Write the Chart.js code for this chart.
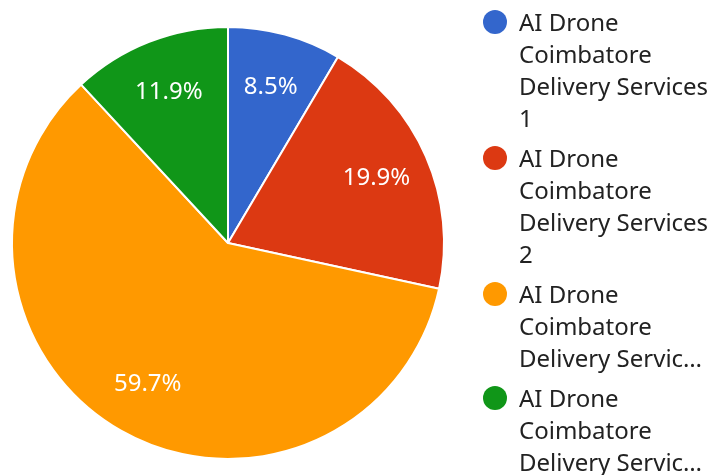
<!DOCTYPE html>
<html>
<head>
<meta charset="utf-8">
<script src="https://cdn.jsdelivr.net/npm/chart.js@4.4.1/dist/chart.umd.min.js"></script>
<style>
  html, body { margin: 0; padding: 0; background: #fff; }
  #wrap { position: relative; width: 713px; height: 475px; overflow: hidden; }
  #legend { position: absolute; left: 483px; top: 6px; font-family: "Noto Sans", sans-serif; font-size: 24px; line-height: 32px; color: #222; }
  .item { position: relative; padding-left: 36px; margin-bottom: 8px; width: 194px; }
  .dot { position: absolute; left: 0; top: 4px; width: 24px; height: 24px; border-radius: 50%; }
  .txt { display: -webkit-box; -webkit-box-orient: vertical; overflow: hidden; }
</style>
</head>
<body>
<div id="wrap">
  <canvas id="chart" width="713" height="475"></canvas>
  <div id="legend"></div>
</div>
<script>
// Pie share of deliveries, Google-style palette
const labels = [
  'AI Drone Coimbatore Delivery Services 1',
  'AI Drone Coimbatore Delivery Services 2',
  'AI Drone Coimbatore Delivery Services 3',
  'AI Drone Coimbatore Delivery Services 4'
];
const values = [8.5, 19.9, 59.7, 11.9];
const colors = ['#3366cc', '#dc3912', '#ff9900', '#109618'];
const legendMaxLines = [4, 4, 3, 3];

// white percentage text in each slice
const sliceLabels = {
  id: 'sliceLabels',
  afterDatasetsDraw(chart) {
    const ctx = chart.ctx;
    const meta = chart.getDatasetMeta(0);
    const total = values.reduce((a, b) => a + b, 0);
    ctx.save();
    ctx.fillStyle = '#fff';
    ctx.font = '24px "Noto Sans"';
    ctx.textAlign = 'center';
    ctx.textBaseline = 'middle';
    meta.data.forEach((arc, i) => {
      const mid = (arc.startAngle + arc.endAngle) / 2;
      const r = arc.outerRadius * 0.75;
      const x = arc.x + Math.cos(mid) * r;
      const y = arc.y + Math.sin(mid) * r;
      ctx.fillText((values[i] / total * 100).toFixed(1) + '%', x, y);
    });
    ctx.restore();
  }
};

const chart = new Chart(document.getElementById('chart'), {
  type: 'pie',
  data: {
    labels: labels,
    datasets: [{ data: values, backgroundColor: colors, borderColor: '#fff', borderWidth: 2 }]
  },
  options: {
    responsive: false,
    animation: false,
    layout: { padding: { left: 11, top: 26, right: 268, bottom: 15 } },
    plugins: { legend: { display: false }, tooltip: { enabled: false } }
  },
  plugins: [sliceLabels]
});

const legend = document.getElementById('legend');
labels.forEach((l, i) => {
  const item = document.createElement('div');
  item.className = 'item';
  item.innerHTML = '<span class="dot" style="background:' + colors[i] + '"></span><div class="txt" style="-webkit-line-clamp:' + legendMaxLines[i] + '">' + l + '</div>';
  legend.appendChild(item);
});
</script>
</body>
</html>
